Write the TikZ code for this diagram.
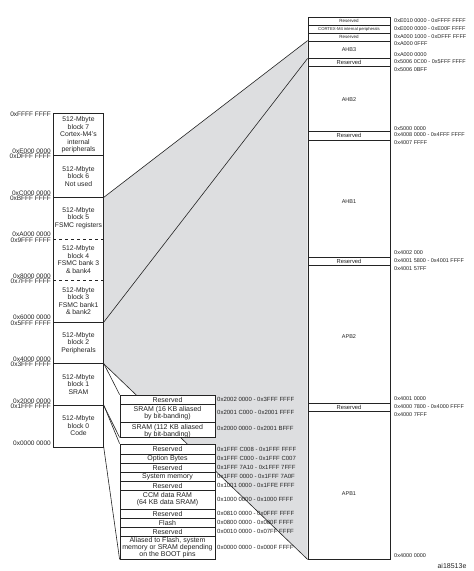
\documentclass[tikz,border=0pt]{standalone}
\usepackage{fontspec}
\setmainfont{Liberation Sans}
\pgfdeclarelayer{background}
\pgfsetlayers{background,main}
\definecolor{fangrey}{RGB}{221,222,224}
\definecolor{ink}{RGB}{35,35,35}
\begin{document}
\begin{tikzpicture}[x=1pt,y=-1pt,
  lbox/.style={inner sep=0pt, minimum width=50pt, minimum height=41.6pt, align=center, text=ink, font=\fontsize{6.8}{7.5}\selectfont},
  rbox/.style={draw=ink, line width=0.8pt, fill=white, inner sep=0pt, minimum width=82pt, text=ink, font=\fontsize{5.5}{6}\selectfont},
  zbox/.style={draw=ink, line width=0.8pt, fill=white, inner sep=0pt, minimum width=95pt, align=center, text=ink, font=\fontsize{7}{7}\selectfont},
  addr/.style={anchor=west, inner sep=0pt, text=ink, font=\fontsize{5.5}{6}\selectfont},
  zaddr/.style={anchor=west, inner sep=0pt, text=ink, font=\fontsize{6}{6}\selectfont},
  laddr/.style={anchor=base east, inner sep=0pt, text=ink, font=\fontsize{6.5}{6.5}\selectfont},
  conn/.style={draw=ink, line width=0.6pt},
  frame/.style={draw=ink, line width=0.8pt}]
\useasboundingbox (0,0) rectangle (474,571);

% ---- left column: 512-Mbyte blocks
\node[lbox] (b7) at (78.5,134.8) {512-Mbyte\\block 7\\Cortex-M4's\\internal\\peripherals};
\node[lbox] (b6) at (78.5,176.4) {512-Mbyte\\block 6\\Not used};
\node[lbox] (b5) at (78.5,218.0) {512-Mbyte\\block 5\\FSMC registers};
\node[lbox] (b4) at (78.5,259.6) {512-Mbyte\\block 4\\FSMC bank 3\\\& bank4};
\node[lbox] (b3) at (78.5,301.2) {512-Mbyte\\block 3\\FSMC bank1\\\& bank2};
\node[lbox] (b2) at (78.5,342.8) {512-Mbyte\\block 2\\Peripherals};
\node[lbox] (b1) at (78.5,384.4) {512-Mbyte\\block 1\\SRAM};
\node[lbox] (b0) at (78.5,426.0) {512-Mbyte\\block 0\\Code};
\draw[frame] (b7.north west) rectangle (b0.south east);
\draw[frame] (b7.south west) -- (b7.south east);
\draw[frame] (b6.south west) -- (b6.south east);
\draw[frame, dashed] (b5.south west) -- (b5.south east);
\draw[frame, dashed] (b4.south west) -- (b4.south east);
\draw[frame] (b3.south west) -- (b3.south east);
\draw[frame] (b2.south west) -- (b2.south east);
\draw[frame] (b1.south west) -- (b1.south east);

% left addresses
\node[laddr] (la1) at (51,116.4) {0xFFFF FFFF};
\node[laddr] (la2) at (51,153.4) {0xE000 0000};
\node[laddr] (la3) at (51,158.9) {0xDFFF FFFF};
\node[laddr] (la4) at (51,195.0) {0xC000 0000};
\node[laddr] (la5) at (51,200.5) {0xBFFF FFFF};
\node[laddr] (la6) at (51,236.6) {0xA000 0000};
\node[laddr] (la7) at (51,242.1) {0x9FFF FFFF};
\node[laddr] (la8) at (51,278.2) {0x8000 0000};
\node[laddr] (la9) at (51,283.7) {0x7FFF FFFF};
\node[laddr] (la10) at (51,319.8) {0x6000 0000};
\node[laddr] (la11) at (51,325.3) {0x5FFF FFFF};
\node[laddr] (la12) at (51,361.4) {0x4000 0000};
\node[laddr] (la13) at (51,366.9) {0x3FFF FFFF};
\node[laddr] (la14) at (51,403.0) {0x2000 0000};
\node[laddr] (la15) at (51,408.5) {0x1FFF FFFF};
\node[laddr] (la16) at (51,445.4) {0x0000 0000};

% ---- right column: peripheral buses
\node[rbox, minimum height=8pt, font=\fontsize{4.5}{5}\selectfont] (rr1) at (349,21) {Reserved};
\node[rbox, minimum height=8pt, font=\fontsize{4.2}{5}\selectfont] (rr2) at (349,29) {CORTEX-M4 internal peripherals};
\node[rbox, minimum height=8pt, font=\fontsize{4.5}{5}\selectfont] (rr3) at (349,37) {Reserved};
\node[rbox, minimum height=17pt] (ahb3) at (349,49.5) {AHB3};
\node[rbox, minimum height=8pt, font=\fontsize{5.8}{6}\selectfont] (rr5) at (349,62) {Reserved};
\node[rbox, minimum height=65pt, label={[yshift=-1.5pt, text=ink, font=\fontsize{5.5}{6}\selectfont]center:AHB2}] (ahb2) at (349,98.5) {};
\node[rbox, minimum height=9pt, font=\fontsize{5.8}{6}\selectfont] (rr7) at (349,135.5) {Reserved};
\node[rbox, minimum height=117pt, label={[yshift=-3pt, text=ink, font=\fontsize{5.5}{6}\selectfont]center:AHB1}] (ahb1) at (349,198.5) {};
\node[rbox, minimum height=8pt, font=\fontsize{5.8}{6}\selectfont] (rr9) at (349,261) {Reserved};
\node[rbox, minimum height=138pt, label={[yshift=-3pt, text=ink, font=\fontsize{5.5}{6}\selectfont]center:APB2}] (apb2) at (349,334) {};
\node[rbox, minimum height=8pt, font=\fontsize{5.8}{6}\selectfont] (rr11) at (349,407) {Reserved};
\node[rbox, minimum height=148pt, label={[yshift=-9pt, text=ink, font=\fontsize{5.5}{6}\selectfont]center:APB1}] (apb1) at (349,485) {};

% right addresses
\node[addr] (ra1) at (394,21) {0xE010 0000 - 0xFFFF FFFF};
\node[addr] (ra2) at (394,29) {0xE000 0000 - 0xE00F FFFF};
\node[addr] (ra3) at (394,37) {0xA000 1000 - 0xDFFF FFFF};
\node[addr] (ra4) at (394,43.5) {0xA000 0FFF};
\node[addr] (ra5) at (394,55) {0xA000 0000};
\node[addr] (ra6) at (394,61.5) {0x5006 0C00 - 0x5FFF FFFF};
\node[addr] (ra7) at (394,69.5) {0x5006 0BFF};
\node[addr] (ra8) at (394,128.5) {0x5000 0000};
\node[addr] (ra9) at (394,135) {0x4008 0000 - 0x4FFF FFFF};
\node[addr] (ra10) at (394,142.5) {0x4007 FFFF};
\node[addr] (ra11) at (394,253) {0x4002 000};
\node[addr] (ra12) at (394,260.5) {0x4001 5800 - 0x4001 FFFF};
\node[addr] (ra13) at (394,269) {0x4001 57FF};
\node[addr] (ra14) at (394,398.5) {0x4001 0000};
\node[addr] (ra15) at (394,407) {0x4000 7800 - 0x4000 FFFF};
\node[addr] (ra16) at (394,415) {0x4000 7FFF};
\node[addr] (ra17) at (394,556) {0x4000 0000};

% ---- SRAM detail
\node[zbox, minimum height=9pt] (s1) at (167.5,399.5) {Reserved};
\node[zbox, minimum height=18pt] (s2) at (167.5,413) {SRAM (16 KB aliased\\by bit-banding)};
\node[zbox, minimum height=15pt, label={[yshift=-1.2pt, text=ink, align=center, font=\fontsize{7}{7}\selectfont]center:SRAM (112 KB aliased\\by bit-banding)}] (s3) at (167.5,429.5) {};
\node[zaddr] (sa1) at (217,399.5) {0x2002 0000 - 0x3FFF FFFF};
\node[zaddr] (sa2) at (217,412) {0x2001 C000 - 0x2001 FFFF};
\node[zaddr] (sa3) at (217,428.5) {0x2000 0000 - 0x2001 BFFF};

% ---- Code detail
\node[zbox, minimum height=10pt] (c1) at (167.5,449) {Reserved};
\node[zbox, minimum height=9pt] (c2) at (167.5,458.5) {Option Bytes};
\node[zbox, minimum height=9pt] (c3) at (167.5,467.5) {Reserved};
\node[zbox, minimum height=9pt] (c4) at (167.5,476.5) {System memory};
\node[zbox, minimum height=9pt] (c5) at (167.5,485.5) {Reserved};
\node[zbox, minimum height=19pt] (c6) at (167.5,499.5) {CCM data RAM\\(64 KB data SRAM)};
\node[zbox, minimum height=9pt] (c7) at (167.5,513.5) {Reserved};
\node[zbox, minimum height=9pt] (c8) at (167.5,522.5) {Flash};
\node[zbox, minimum height=9pt] (c9) at (167.5,531.5) {Reserved};
\node[zbox, minimum height=23pt] (c10) at (167.5,547.5) {Aliased to Flash, system\\memory or SRAM depending\\on the BOOT pins};
\node[zaddr] (ca1) at (217,449) {0x1FFF C008 - 0x1FFF FFFF};
\node[zaddr] (ca2) at (217,458.5) {0x1FFF C000 - 0x1FFF C007};
\node[zaddr] (ca3) at (217,467.5) {0x1FFF 7A10 - 0x1FFF 7FFF};
\node[zaddr] (ca4) at (217,476.5) {0x1FFF 0000 - 0x1FFF 7A0F};
\node[zaddr] (ca5) at (217,485.5) {0x1001 0000 - 0x1FFE FFFF};
\node[zaddr] (ca6) at (217,499.5) {0x1000 0000 - 0x1000 FFFF};
\node[zaddr] (ca7) at (217,513.5) {0x0810 0000 - 0x0FFF FFFF};
\node[zaddr] (ca8) at (217,522.5) {0x0800 0000 - 0x080F FFFF};
\node[zaddr] (ca9) at (217,531.5) {0x0010 0000 - 0x07FF FFFF};
\node[zaddr] (ca10) at (217,547.5) {0x0000 0000 - 0x000F FFFF};

% connectors to detail boxes
\draw[conn] (b1.north east) -- (s1.north west);
\draw[conn] (b1.south east) -- (s3.south west);
\draw[conn] (b0.north east) -- (c1.north west);
\draw[conn] (b0.south east) -- (c10.south west);

% grey peripheral fan
\begin{pgfonlayer}{background}
\fill[fangrey] (b6.south east) -- (ahb3.north west) -- (apb1.south west) -- (b2.south east) -- cycle;
\draw[conn] (b6.south east) -- (ahb3.north west);
\draw[conn] (b3.south east) -- (ahb3.south west);
\draw[conn] (b2.south east) -- (apb1.south west);
\end{pgfonlayer}

\node[inner sep=0pt, text=ink, font=\fontsize{7}{7}\selectfont] (id) at (452,566) {ai18513e};
\end{tikzpicture}
\end{document}
